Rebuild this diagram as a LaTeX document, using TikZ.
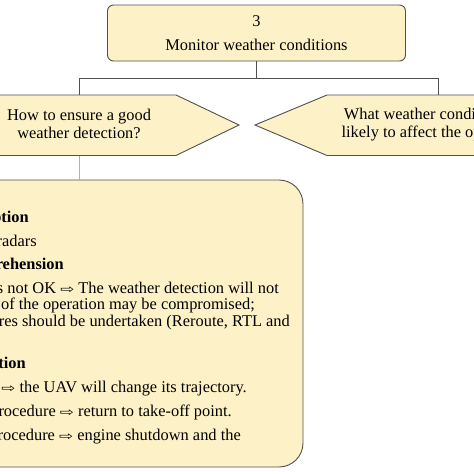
\documentclass[tikz,border=0pt]{standalone}
\usepackage{fontspec}
\setmainfont{Liberation Serif}
\newfontfamily\arrowfont{DejaVu Sans}
\usetikzlibrary{positioning, calc}
\newcommand{\thento}{\scalebox{1.4}[1]{\arrowfont\fontsize{12}{12}\selectfont ⇨}}
\definecolor{boxfill}{RGB}{253,242,199}
\definecolor{boxline}{RGB}{80,80,80}
\definecolor{softline}{RGB}{175,175,175}

\begin{document}
\begin{tikzpicture}[
    x=1pt, y=-1pt,
    every node/.style={font=\fontsize{16.4}{18}\selectfont, inner sep=0pt},
    goalbox/.style={draw=boxline, fill=boxfill, line width=0.9pt, rounded corners=6pt, minimum width=298pt, minimum height=56pt, align=center},
    question/.style={draw=boxline, fill=boxfill, line width=0.9pt},
    answerbox/.style={draw=boxline, fill=boxfill, line width=0.9pt, rounded corners=24pt, minimum width=333pt, minimum height=287pt},
    qtext/.style={align=center},
    sentence/.style={anchor=base east},
    heading/.style={anchor=base east, font=\fontsize{16.4}{18}\selectfont\bfseries},
    link/.style={draw=boxline, line width=0.8pt},
    softlink/.style={draw=softline, line width=0.8pt}
]
    \clip (0,0) rectangle (474,474);

    % goal
    \node[goalbox] (goal) at (256.5,33) {3\\[6pt]Monitor weather conditions};

    % questions
    \coordinate (howtop) at (79,95);
    \coordinate (howbot) at (79,155.5);
    \coordinate (whattop) at (438,95);
    \draw[question] (-10,95) -- (176,95) -- (239,125) -- (176,155.5) -- (-10,155.5) -- cycle;
    \draw[question] (484,95) -- (327,95) -- (255,125) -- (327,155.5) -- (484,155.5) -- cycle;
    \node[qtext] (how) at (79,123.5) {How to ensure a good\\weather detection?};
    \node[qtext] (what) at (438,125) {What weather conditions are\\likely to affect the operation?};

    \draw[link] (goal.south) -- ++(0,17) coordinate (split) -| (howtop);
    \draw[link] (split) -| (whattop);

    % answer
    \node[answerbox] (answer) at (136.5,323.5) {};
    \draw[softlink] (howbot) -- (howbot |- answer.north);

    \node[heading] (perc) at (29,222) {Perception};
    \node[sentence] (perc1) at (37,246) {Weather radars};
    \node[heading] (comp) at (64,269) {Comprehension};
    \node[sentence] (comp1) at (279,293) {Weather detection is not OK \thento{} The weather detection will not};
    \node[sentence] (comp2) at (255,309.5) {be done and the safety of the operation may be compromised;};
    \node[sentence] (comp3) at (290,326) {Contingency measures should be undertaken (Reroute, RTL and};
    \node[heading] (proj) at (26,368) {Projection};
    \node[sentence] (proj1) at (247,392) {Reroute \thento{} the UAV will change its trajectory.};
    \node[sentence] (proj2) at (232,416) {RTL procedure \thento{} return to take-off point.};
    \node[sentence] (proj3) at (241,440) {FTS procedure \thento{} engine shutdown and the};
\end{tikzpicture}
\end{document}
